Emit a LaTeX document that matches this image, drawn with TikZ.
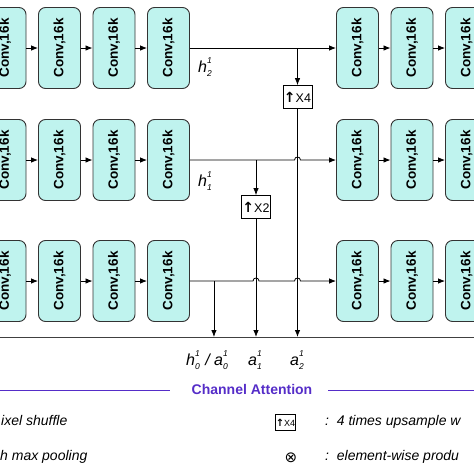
\documentclass[tikz,border=0pt]{standalone}
\usepackage{fontspec}
\setmainfont{Liberation Sans}
\newfontfamily\dejavu{DejaVu Sans}
\newfontfamily\dejavub{DejaVu Sans Bold}
\usetikzlibrary{arrows.meta,calc}
\definecolor{boxfill}{HTML}{BFF3EE}
\definecolor{boxline}{HTML}{333333}
\definecolor{capurple}{RGB}{85,45,200}
\newcommand\hl[3]{#1\rlap{\raisebox{0.55em}{\fontsize{8.5}{8.5}\selectfont #2}}\raisebox{-0.25em}{\fontsize{8.5}{8.5}\selectfont #3}\hspace{0.35em}}
\tikzset{
 convbox/.style={draw=boxline, line width=0.9pt, fill=boxfill, rounded corners=7pt,
   minimum width=42pt, minimum height=81pt, inner sep=0pt,
   font=\fontsize{13.5}{14}\selectfont\bfseries},
 arr/.style={-{Latex[length=7pt,width=5.5pt]}, line width=0.8pt},
 upbox/.style={draw, line width=0.8pt, fill=white, minimum width=29pt, minimum height=23pt,
   inner sep=1pt, font=\fontsize{12.5}{12.5}\selectfont},
 lbl/.style={font=\fontsize{16}{16}\selectfont\itshape, inner sep=0pt},
 legend/.style={font=\fontsize{14}{14}\selectfont\itshape, anchor=west, inner sep=0pt},
}
\begin{document}
\begin{tikzpicture}[x=1pt,y=-1pt]
\useasboundingbox (0,0) rectangle (474,474);
\clip (0,0) rectangle (474,474);
% boxes
\foreach \r/\y in {1/48,2/160,3/281}{
  \foreach \i/\x in {1/5,2/59.5,3/114,4/168.5,5/357.5,6/412,7/466.5}{
    \node[convbox] (b\r\i) at (\x,\y) {\rotatebox{90}{Conv,16k}};
  }
  \draw[arr] (b\r1.east) -- (b\r2.west);
  \draw[arr] (b\r2.east) -- (b\r3.west);
  \draw[arr] (b\r3.east) -- (b\r4.west);
  \draw[arr] (b\r5.east) -- (b\r6.west);
  \draw[arr] (b\r6.east) -- (b\r7.west);
}
% upsample boxes
\node[upbox] (up4) at (297.5,97) {{\dejavub\fontsize{14}{14}\selectfont ↑}X4};
\node[upbox] (up2) at (256,207) {{\dejavub\fontsize{14}{14}\selectfont ↑}X2};
% bottom line
\coordinate (L) at (0,337);
\coordinate (R) at (474,337);
\draw[line width=0.9pt, black!75] (L) -- (R);
% crossings
\coordinate (x21) at (up4 |- b24.east);
\coordinate (x31) at (up2 |- b34.east);
\coordinate (x32) at (up4 |- b34.east);
\path (b34.east) ++(24,0) coordinate (j0);
% row 1
\draw[arr] (b14.east) -- (b15.west);
\draw[arr] (up4 |- b14.east) -- (up4.north);
% row 2
\draw[arr] (b24.east) -- ($(x21)+(-3,0)$) .. controls ($(x21)+(-3,-4)$) and ($(x21)+(3,-4)$) .. ($(x21)+(3,0)$) -- (b25.west);
\draw[arr] (up2 |- b24.east) -- (up2.north);
% row 3
\draw[arr] (b34.east) -- ($(x31)+(-3,0)$) .. controls ($(x31)+(-3,-4)$) and ($(x31)+(3,-4)$) .. ($(x31)+(3,0)$)
  -- ($(x32)+(-3,0)$) .. controls ($(x32)+(-3,-4)$) and ($(x32)+(3,-4)$) .. ($(x32)+(3,0)$) -- (b35.west);
% verticals to bottom
\draw[arr] (up4.south) -- (up4 |- L);
\draw[arr] (up2.south) -- (up2 |- L);
\draw[arr] (j0) -- (j0 |- L);
% labels
\node[lbl] (h2) at (205,67) {\hl{h}{1}{2}};
\node[lbl] (h1) at (205,181) {\hl{h}{1}{1}};
\node[lbl] (h0) at (207,360) {\hl{h}{1}{0}/ \hl{a}{1}{0}};
\node[lbl] (a1) at (255,360) {\hl{a}{1}{1}};
\node[lbl] (a2) at (297,360) {\hl{a}{1}{2}};
% channel attention
\node[font=\fontsize{14}{14}\selectfont\bfseries, text=capurple, inner sep=0pt] (ca) at (252,389) {Channel Attention};
\coordinate (cl) at (0,390);
\coordinate (cr) at (474,390);
\draw[capurple, line width=1pt] (cl) -- ([xshift=-22pt]ca.west |- cl);
\draw[capurple, line width=1pt] ([xshift=16pt]ca.east |- cr) -- (cr);
% legend
\node[legend] (l1) at (1,420) {ixel shuffle};
\node[legend] (l2) at (0,457) {h max pooling};
\node[draw, line width=0.8pt, minimum width=17pt, minimum height=16pt, inner sep=0.5pt,
  font=\fontsize{9}{9}\selectfont] (lbx) at (285.5,422.5) {{\dejavub\fontsize{10}{10}\selectfont ↑}X4};
\node[legend] (l3) at (325,422) {:\ \ 4 times upsample w};
\node[font=\dejavu\fontsize{15}{15}\selectfont, inner sep=0pt] (ot) at (291,457.5) {⊗};
\node[legend] (l4) at (325,457) {:\ \ element-wise produ};
\end{tikzpicture}
\end{document}
